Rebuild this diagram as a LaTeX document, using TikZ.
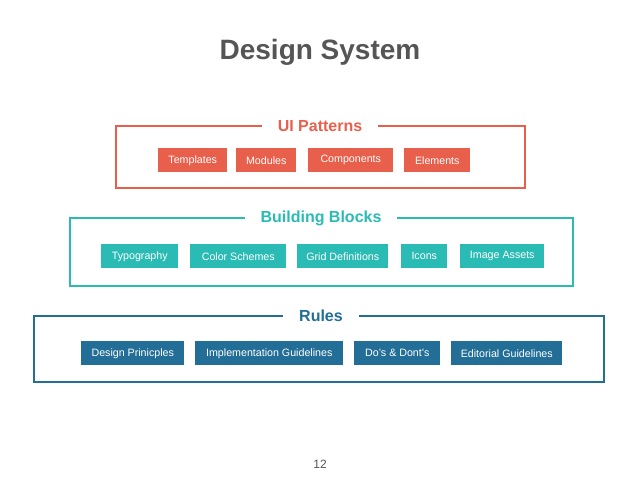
\documentclass[tikz,border=0pt]{standalone}
\usepackage{fontspec}
\setmainfont{Liberation Sans}
\definecolor{uired}{RGB}{232,96,76}
\definecolor{bbteal}{RGB}{43,187,181}
\definecolor{rulblue}{RGB}{35,110,150}
\definecolor{titlegray}{RGB}{85,85,85}
\tikzset{
  frame/.style={draw=#1, line width=1pt},
  head/.style={fill=white, text=#1, font=\fontsize{12}{14}\selectfont\bfseries, inner xsep=12pt, inner ysep=2pt},
  item/.style={fill=#1, text=white, font=\fontsize{8}{10}\selectfont, minimum height=18pt, inner sep=0pt, anchor=north west}
}
\begin{document}
\begin{tikzpicture}[x=0.75pt,y=0.75pt,yscale=-1,xscale=1]
	\useasboundingbox (0,0) rectangle (638,479);
	% title
	\node (title) [text=titlegray, font=\fontsize{21}{24}\selectfont\bfseries] at (320,52) {Design System};
	% UI Patterns
	\draw [frame=uired] (116,126) rectangle (525,188);
	\node (uihead) [head=uired] at (320,126) {UI Patterns};
	\node (templates) [item=uired, minimum width=51.75pt] at (158,148) {Templates};
	\node (modules) [item=uired, minimum width=45pt] at (236,148) {Modules};
	\node (components) [item=uired, minimum width=63.75pt] at (308,148) {Components};
	\node (elements) [item=uired, minimum width=49.5pt] at (404,148) {Elements};
	% Building Blocks
	\draw [frame=bbteal] (70,218) rectangle (573,286);
	\node (bbhead) [head=bbteal] at (321,218) {Building Blocks};
	\node (typography) [item=bbteal, minimum width=57.75pt] at (101,244) {Typography};
	\node (colors) [item=bbteal, minimum width=72pt] at (190,244) {Color Schemes};
	\node (grid) [item=bbteal, minimum width=68.25pt] at (297,244) {Grid Definitions};
	\node (icons) [item=bbteal, minimum width=34.5pt] at (401,244) {Icons};
	\node (assets) [item=bbteal, minimum width=63pt] at (460,244) {Image Assets};
	% Rules
	\draw [frame=rulblue] (34,316) rectangle (604,382);
	\node (ruleshead) [head=rulblue] at (321,316) {Rules};
	\node (principles) [item=rulblue, minimum width=77.25pt] at (81,341) {Design Prinicples};
	\node (implementation) [item=rulblue, minimum width=111pt] at (195,341) {Implementation Guidelines};
	\node (dos) [item=rulblue, minimum width=64.5pt] at (354,341) {Do’s \& Dont’s};
	\node (editorial) [item=rulblue, minimum width=83.25pt] at (451,341) {Editorial Guidelines};
	% page number
	\node (page) [text=titlegray, font=\fontsize{9}{11}\selectfont] at (320,464) {12};
\end{tikzpicture}
\end{document}
